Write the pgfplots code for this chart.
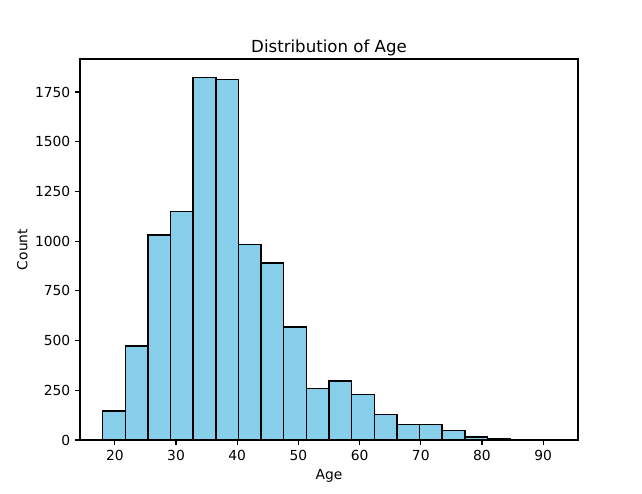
\documentclass[border=0pt]{standalone}
\usepackage{fontspec}
\setmainfont{DejaVu Sans}
\usepackage{pgfplots}
\pgfplotsset{compat=1.18}
\definecolor{skyblue}{HTML}{87CEEB}
\begin{document}
\begin{tikzpicture}
\begin{axis}[
    scale only axis,
    width=4.98in, height=3.81in,
    xmin=14.3, xmax=95.7,
    ymin=0, ymax=1916,
    xtick={20,30,...,90},
    ytick={0,250,...,1750},
    tick align=outside,
    major tick length=3.5pt,
    tick pos=left,
    axis line style={line width=0.8pt},
    every tick/.style={black, line width=0.8pt},
    /pgf/number format/assume math mode=true,
    /pgf/number format/1000 sep={},
    tick label style={font=\fontsize{10}{12}\selectfont},
    label style={font=\fontsize{10}{12}\selectfont},
    ylabel style={yshift=-1.5pt},
    title style={font=\fontsize{12}{14}\selectfont, yshift=-7pt},
    title={Distribution of Age},
    xlabel={Age},
    ylabel={Count},
]
% bin centres, width 3.7
\addplot[ybar, bar width=3.7, bar shift=0pt, fill=skyblue, draw=black, line width=1pt] coordinates {
    (19.85, 146)
    (23.55, 473)
    (27.25, 1031)
    (30.95, 1150)
    (34.65, 1824)
    (38.35, 1813)
    (42.05, 984)
    (45.75, 890)
    (49.45, 568)
    (53.15, 260)
    (56.85, 297)
    (60.55, 230)
    (64.25, 129)
    (67.95, 77)
    (71.65, 77)
    (75.35, 49)
    (79.05, 15)
    (82.75, 8)
    (86.45, 3)
    (90.15, 3)
};
\end{axis}
\pgfresetboundingbox
\path (current axis.south west) ++(-0.8in,-0.54in) rectangle ([shift={(0.64in,0.59in)}]current axis.north east);
\end{tikzpicture}
\end{document}
